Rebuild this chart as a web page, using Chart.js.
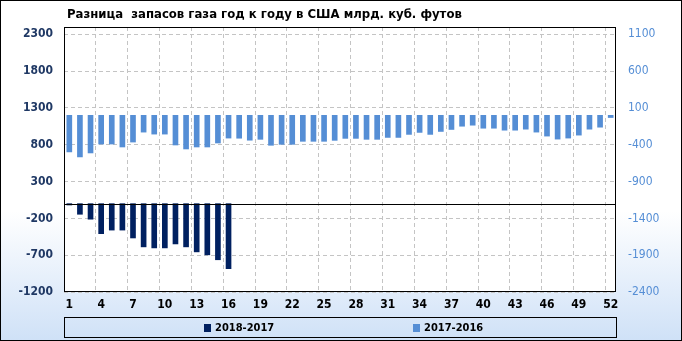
<!DOCTYPE html>
<html>
<head>
<meta charset="utf-8">
<script src="https://cdn.jsdelivr.net/npm/chart.js@4.4.1/dist/chart.umd.min.js"></script>
<style>
  html, body { margin: 0; padding: 0; }
  #wrap {
    position: relative; width: 682px; height: 341px; overflow: hidden;
    background: linear-gradient(to bottom, #ffffff 0%, #ffffff 62%, #cfe1f7 100%);
    font-family: 'DejaVu Sans Condensed', 'DejaVu Sans', sans-serif;
  }
  #frame { position: absolute; left: 0; top: 0; width: 682px; height: 341px; box-sizing: border-box; border: 1px solid #000; }
  #chart { position: absolute; left: 0; top: 0; }
  #title { position: absolute; left: 67px; top: 6px; font-weight: bold; font-size: 13px; color: #000; white-space: nowrap; }
  #legend { position: absolute; left: 64px; top: 317px; width: 553px; height: 21px; box-sizing: border-box; border: 1px solid #000; }
  .item { position: absolute; top: 2px; font-size: 11px; font-weight: bold; line-height: 15px; color: #000; white-space: nowrap; }
  .sw { display: inline-block; width: 7px; height: 8px; margin-right: 4px; vertical-align: -1px; }
</style>
</head>
<body>
<div id="wrap">
  <canvas id="chart" width="682" height="341"></canvas>
  <div id="title">Разница&nbsp; запасов газа год к году в США млрд. куб. футов</div>
  <div id="legend"></div>
  <div id="frame"></div>
</div>
<script>
const weeks = ['1','2','3','4','5','6','7','8','9','10','11','12','13','14','15','16','17','18','19','20',
  '21','22','23','24','25','26','27','28','29','30','31','32','33','34','35','36','37','38','39','40',
  '41','42','43','44','45','46','47','48','49','50','51','52'];

// 2018 vs 2017, left axis
const diff2018 = [-18, -144, -211, -408, -359, -359, -466, -587, -601, -601, -547, -587, -655, -695, -762, -883];

// 2017 vs 2016, right axis
const diff2017 = [-497, -565, -511, -390, -390, -430, -363, -228, -255, -255, -403, -457, -430, -430, -376, -309,
  -311, -338, -326, -407, -394, -394, -353, -353, -353, -340, -313, -313, -326, -326, -300, -300,
  -259, -232, -259, -219, -192, -148, -134, -175, -175, -202, -202, -188, -228, -282, -323, -309,
  -269, -188, -161, -30];

const leftTicks = [-1200, -700, -200, 300, 800, 1300, 1800, 2300];
const rightTicks = [-2400, -1900, -1400, -900, -400, 100, 600, 1100];

const seriesNames = ['2018-2017', '2017-2016'];
const seriesColors = ['#002060', '#558ED5'];

const FONT = "'DejaVu Sans Condensed', 'DejaVu Sans', sans-serif";
const GRID = '#c4c4c4';

const plotFrame = {
  id: 'plotFrame',
  beforeDraw(chart) {
    const { ctx, chartArea: a } = chart;
    ctx.save();
    ctx.fillStyle = '#ffffff';
    ctx.fillRect(a.left, a.top, a.right - a.left, a.bottom - a.top);
    ctx.restore();
  },
  afterDraw(chart) {
    const { ctx, chartArea: a } = chart;
    const y0 = Math.round(chart.scales.y.getPixelForValue(0)) + 0.5;
    ctx.save();
    ctx.strokeStyle = '#000';
    ctx.lineWidth = 1;
    ctx.beginPath();
    ctx.moveTo(a.left, y0);
    ctx.lineTo(a.right, y0);
    ctx.stroke();
    ctx.strokeRect(Math.round(a.left) + 0.5, Math.round(a.top) + 0.5,
      Math.round(a.right - a.left) - 1, Math.round(a.bottom - a.top) - 1);
    ctx.restore();
  }
};

const chart = new Chart(document.getElementById('chart'), {
  type: 'bar',
  data: {
    labels: weeks,
    datasets: [
      { label: seriesNames[0], data: diff2018, yAxisID: 'y', backgroundColor: seriesColors[0], grouped: false, barThickness: 5 },
      { label: seriesNames[1], data: diff2017, yAxisID: 'y1', backgroundColor: seriesColors[1], grouped: false, barThickness: 5 }
    ]
  },
  options: {
    responsive: false,
    animation: false,
    devicePixelRatio: 1,
    layout: { padding: { top: 27, bottom: 29, left: 0, right: 0 } },
    plugins: {
      legend: { display: false },
      title: { display: false },
      tooltip: { enabled: false }
    },
    scales: {
      x: {
        grid: {
          offset: true,
          drawTicks: false,
          color: c => (c.index > 0 && c.index % 3 === 0) ? GRID : 'rgba(0,0,0,0)'
        },
        border: { display: false, dash: [4, 3] },
        ticks: {
          autoSkip: false, maxRotation: 0, padding: 6, color: '#000',
          font: { family: FONT, size: 12, weight: 'bold' },
          callback: (v, i) => i % 3 === 0 ? weeks[i] : ''
        },
        afterFit: s => { s.height = 20; }
      },
      y: {
        position: 'left', min: -1200, max: 2400,
        afterBuildTicks: s => { s.ticks = leftTicks.map(v => ({ value: v })); },
        grid: { drawTicks: false, color: GRID },
        border: { display: false, dash: [4, 3] },
        ticks: {
          padding: 11, color: '#1F3864', font: { family: FONT, size: 12, weight: 'bold' },
          callback: v => String(v)
        },
        afterFit: s => { s.width = 64; }
      },
      y1: {
        position: 'right', min: -2400, max: 1200,
        afterBuildTicks: s => { s.ticks = rightTicks.map(v => ({ value: v })); },
        grid: { display: false, drawTicks: false },
        border: { display: false },
        ticks: {
          padding: 12, color: '#558ED5', font: { family: FONT, size: 12 },
          callback: v => String(v)
        },
        afterFit: s => { s.width = 66; }
      }
    }
  },
  plugins: [plotFrame]
});

// legend
const legend = document.getElementById('legend');
const itemLeft = [139, 348];
chart.data.datasets.forEach((ds, i) => {
  const el = document.createElement('div');
  el.className = 'item';
  el.style.left = itemLeft[i] + 'px';
  el.innerHTML = '<span class="sw" style="background:' + ds.backgroundColor + '"></span>' + ds.label;
  legend.appendChild(el);
});
</script>
</body>
</html>
